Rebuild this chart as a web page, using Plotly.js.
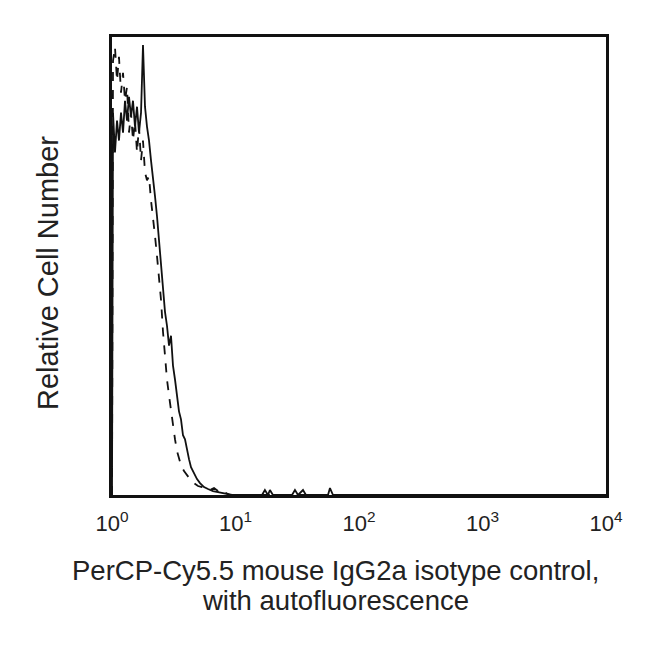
<!DOCTYPE html>
<html>
<head>
<meta charset="utf-8">
<script src="https://cdn.plot.ly/plotly-3.0.1.min.js"></script>
<style>
  body { margin: 0; background: #fff; }
  #GRAPH { width: 650px; height: 650px; }
</style>
</head>
<body>
<div id="GRAPH"></div>
<script>
// fluorescence (log axis) and counts
var stainedX = [1, 1.019, 1.057, 1.098, 1.139, 1.183, 1.228, 1.274, 1.323, 1.373, 1.425, 1.479, 1.535, 1.594, 1.654, 1.718, 1.782, 1.850, 1.920, 1.994, 2.069, 2.148, 2.230, 2.314, 2.402, 2.494, 2.588, 2.686, 2.788, 2.894, 3.004, 3.118, 3.237, 3.360, 3.487, 3.620, 3.757, 3.900, 4.049, 4.202, 4.362, 4.613, 4.879, 5.160, 5.558, 5.989, 6.573, 7.216, 7.92, 8.70, 9.37, 16.4, 17.3, 18.3, 19.0, 20.1, 28.7, 30.3, 32.1, 35.2, 37.2, 56.1, 58.2, 61.6, 10000];
var stainedY = [0, 192, 172, 188, 178, 192, 182, 198, 188, 200, 190, 198, 185, 195, 182, 192, 226, 195, 185, 178, 168, 160, 150, 140, 128, 115, 102, 92, 85, 75, 80, 65, 58, 50, 42, 38, 30, 28, 22, 18, 14, 11, 8, 6, 4, 3, 2, 1.5, 1, 0.5, 0, 0, 2.5, 0, 2.5, 0, 0, 2.5, 0, 2.5, 0, 0, 3.5, 0, 0];

var autoX = [1, 1.019, 1.057, 1.098, 1.139, 1.183, 1.228, 1.274, 1.323, 1.373, 1.425, 1.479, 1.535, 1.594, 1.654, 1.718, 1.782, 1.850, 1.920, 1.994, 2.069, 2.148, 2.230, 2.314, 2.402, 2.494, 2.588, 2.686, 2.788, 2.894, 3.004, 3.118, 3.237, 3.360, 3.487, 3.620, 3.83, 4.049, 4.28, 4.613, 4.97, 5.36, 5.77, 6.22, 6.70, 7.216, 7.78, 8.38, 9.03, 10000];
var autoY = [0, 218, 225, 208, 220, 202, 212, 198, 205, 182, 192, 178, 188, 172, 185, 168, 178, 162, 158, 160, 148, 140, 130, 120, 110, 98, 82, 68, 58, 50, 42, 35, 28, 22, 18, 15, 12, 10, 8, 6, 4.5, 4, 3, 2.5, 3.5, 2, 3, 1, 0, 0];

var tickVals = [1, 10, 100, 1000, 10000];
var tickText = ['10<sup>0</sup>', '10<sup>1</sup>', '10<sup>2</sup>', '10<sup>3</sup>', '10<sup>4</sup>'];

var xTitleLines = ['PerCP-Cy5.5 mouse IgG2a isotype control,', 'with autofluorescence'];
var yTitle = 'Relative Cell Number';

var FONT = 'Liberation Sans, Arial, sans-serif';

function CreateTrace(xs, ys, name, dash) {
  return {
    x: xs,
    y: ys,
    mode: 'lines',
    name: name,
    line: { color: '#111', width: 1.8, dash: dash },
    hoverinfo: 'skip'
  };
}

function CreateLabel(text, x, y, angle, size) {
  return {
    text: text,
    xref: 'paper',
    yref: 'paper',
    x: x,
    y: y,
    xanchor: 'center',
    yanchor: 'middle',
    textangle: angle,
    showarrow: false,
    font: { family: FONT, size: size, color: '#222' }
  };
}

var traces = [
  CreateTrace(autoX, autoY, 'autofluorescence', 'dash'),
  CreateTrace(stainedX, stainedY, 'isotype control', 'solid')
];

var layout = {
  width: 650,
  height: 650,
  paper_bgcolor: '#fff',
  plot_bgcolor: '#fff',
  showlegend: false,
  margin: { l: 112, r: 44, t: 37, b: 155, pad: 0 },
  font: { family: FONT, color: '#222' },
  xaxis: {
    type: 'log',
    range: [0, 4],
    tickvals: tickVals,
    ticktext: tickText,
    ticks: '',
    ticklabelstandoff: 7,
    tickfont: { size: 22, color: '#222' },
    showgrid: false,
    zeroline: false,
    showline: true,
    linecolor: '#111',
    linewidth: 3,
    mirror: true,
    automargin: false
  },
  yaxis: {
    range: [0, 230],
    showticklabels: false,
    ticks: '',
    showgrid: false,
    zeroline: false,
    showline: true,
    linecolor: '#111',
    linewidth: 3,
    mirror: true,
    automargin: false
  },
  annotations: [
    CreateLabel(xTitleLines[0], 0.4534, -0.1638, 0, 27.5),
    CreateLabel(xTitleLines[1], 0.4534, -0.2314, 0, 27.5),
    CreateLabel(yTitle, -0.1296, 0.4847, -90, 29)
  ]
};

Plotly.newPlot('GRAPH', traces, layout, { staticPlot: true, displayModeBar: false });
</script>
</body>
</html>
